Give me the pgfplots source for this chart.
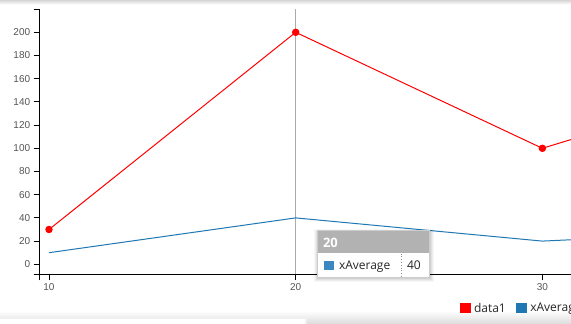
\documentclass[border=0pt]{standalone}
\usepackage{fontspec}
\setmainfont{Open Sans}
\newfontfamily\tickfont{Liberation Sans}
\usepackage{pgfplots}
\pgfplotsset{compat=1.18}
\definecolor{c3red}{HTML}{FF0000}
\definecolor{c3blue}{HTML}{1F77B4}
\definecolor{tipblue}{HTML}{3A87C2}
\definecolor{tickgray}{HTML}{555555}
\begin{document}
\begin{tikzpicture}
\useasboundingbox (0pt,0pt) rectangle (571pt,324pt);
\clip (0pt,0pt) rectangle (571pt,324pt);
\fill[white] (0pt,0pt) rectangle (571pt,324pt);
% top band
\shade[top color=black!16, bottom color=white] (0pt,319.5pt) rectangle (571pt,324pt);
% bottom band
\shade[top color=white, bottom color=black!14] (0pt,0pt) rectangle (571pt,13pt);
\fill[black!6] (0pt,0pt) rectangle (307pt,6.5pt);
\fill[white] (0pt,0pt) rectangle (305pt,5pt);
\begin{axis}[
  at={(39.7pt,49.7pt)}, anchor=south west,
  scale only axis, width=531.3pt, height=265pt,
  xmin=9.623, xmax=31.16, ymin=-8.62, ymax=219.83,
  axis x line=bottom, axis y line=left,
  axis line style={-, black, line width=1pt},
  xtick={10,20,30}, ytick={0,20,...,200},
  extra x ticks={9.623}, extra x tick labels={},
  extra y ticks={-8.62,219.83}, extra y tick labels={},
  tick align=outside, major tick length=6pt,
  tick style={black, line width=1pt},
  ticklabel style={font=\tickfont\fontsize{10}{12}\selectfont, text=tickgray},
  /pgf/number format/assume math mode=true,
  clip=true,
  legend style={at={(0.7911,-0.1283)}, anchor=west, draw=none, fill=none,
    inner sep=0pt, outer sep=0pt, legend columns=-1,
    font=\fontsize{12}{14}\selectfont, text=black!85,
    /tikz/every odd column/.append style={column sep=1pt},
    /tikz/every even column/.append style={column sep=8.5pt}},
  legend image code/.code={\fill[#1] (0pt,-4.6pt) rectangle (10pt,4.6pt);},
]
\addplot[black!33, line width=1pt, forget plot] coordinates {(20,-8.62) (20,219.83)};
\addplot[c3red, line width=1pt, mark=*, mark size=3.2pt, mark options={solid}] coordinates {(10,30) (20,200) (30,100) (40,165)};
\addplot[c3blue, line width=1pt, no marks] coordinates {(10,10) (20,40) (30,20) (40,30)};
\legend{data1, xAverage}
\end{axis}
\begin{scope}[x=1pt,y=1pt]
% tooltip shadow
\foreach \s/\o in {4/0.03,3/0.04,2/0.05,1/0.06}{
  \fill[black, opacity=\o] (317.3-\s+1,46.7-\s-1) rectangle (429.3+\s+1,93.3+\s-2);
}
% tooltip
\fill[white] (317.3,46.7) rectangle (429.3,93.3);
\fill[black!30] (317.3,70.7) rectangle (429.3,93.3);
\draw[black!20, line width=1pt] (317.3,46.7) rectangle (429.3,93.3);
\draw[black!45, dotted, line width=0.8pt] (401.3,47.2) -- (401.3,70.7);
\node[anchor=base west, inner sep=0pt, text=white, font=\bfseries\fontsize{13}{15}\selectfont] at (322.8,76.7) {20};
\fill[tipblue] (324,54) rectangle (333.5,62.7);
\node[anchor=base west, inner sep=0pt, text=black!85, font=\fontsize{12}{14}\selectfont] at (338.8,54) {xAverage};
\node[anchor=base west, inner sep=0pt, text=black!85, font=\fontsize{12}{14}\selectfont] at (406.8,54) {40};
\end{scope}
\end{tikzpicture}
\end{document}
